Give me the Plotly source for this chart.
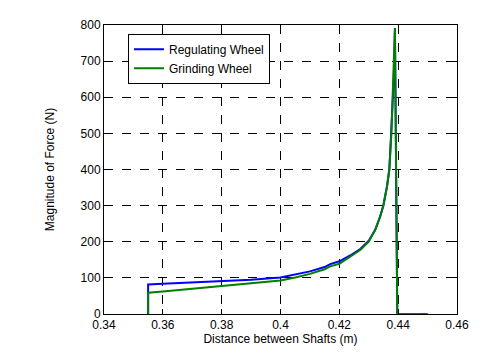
import plotly.graph_objects as go

# Distance between shafts (m)
dist = [0.355, 0.355, 0.36, 0.37, 0.38, 0.39, 0.40, 0.405, 0.41, 0.415, 0.4169, 0.42,
        0.4237, 0.4271, 0.43, 0.4322, 0.4339, 0.435, 0.4362, 0.437, 0.4377, 0.4382,
        0.4387, 0.4389, 0.4397, 0.45]

# Regulating wheel force (N)
reg_force = [0, 82, 84, 87, 91, 95, 101, 109, 118, 130, 138, 146,
             162, 180, 203, 233, 270, 302, 353, 400, 500, 600,
             700, 791, 0, 0]

# Grinding wheel force (N)
grd_force = [0, 59, 62, 70, 76, 84, 93, 101, 111, 124, 132, 139,
             158, 177, 200, 233, 270, 302, 353, 400, 500, 600,
             700, 791, 0, 0]

x_ticks = [0.34, 0.36, 0.38, 0.40, 0.42, 0.44, 0.46]
x_tick_labels = ["0.34", "0.36", "0.38", "0.4", "0.42", "0.44", "0.46"]
y_ticks = [0, 100, 200, 300, 400, 500, 600, 700, 800]

font = "Liberation Sans, Arial, sans-serif"

fig = go.Figure()
fig.add_trace(go.Scatter(x=dist, y=reg_force, mode="lines", name="Regulating Wheel",
                         line=dict(color="#0000ff", width=2)))
fig.add_trace(go.Scatter(x=dist, y=grd_force, mode="lines", name="Grinding Wheel",
                         line=dict(color="#007f00", width=2)))

axis_common = dict(showline=True, linecolor="black", linewidth=1, mirror="ticks",
                   ticks="inside", ticklen=5, tickcolor="black", automargin=False,
                   showgrid=True, gridcolor="black", gridwidth=1, griddash="dash",
                   zeroline=False, tickfont=dict(family=font, size=12, color="black"))

fig.update_xaxes(range=[0.34, 0.46], tickvals=x_ticks, ticktext=x_tick_labels,
                 title=dict(text="Distance between Shafts (m)", standoff=2,
                            font=dict(family=font, size=12, color="black")),
                 **axis_common)
fig.update_yaxes(range=[0, 800], tickvals=y_ticks,
                 title=dict(text="Magnitude of Force (N)", standoff=23,
                            font=dict(family=font, size=12, color="black")),
                 **axis_common)

# page body has an 8px default margin, so the figure is sized to fit inside
fig.update_layout(
    width=492, height=353,
    margin=dict(l=96, r=43, t=17, b=47),
    paper_bgcolor="white", plot_bgcolor="white",
    font=dict(family=font, size=12, color="black"),
    legend=dict(x=0.068, y=0.97, xanchor="left", yanchor="top",
                bgcolor="white", bordercolor="black", borderwidth=1,
                font=dict(family=font, size=12, color="black"),
                tracegroupgap=0),
    showlegend=True,
)

fig.write_html("out.html")
